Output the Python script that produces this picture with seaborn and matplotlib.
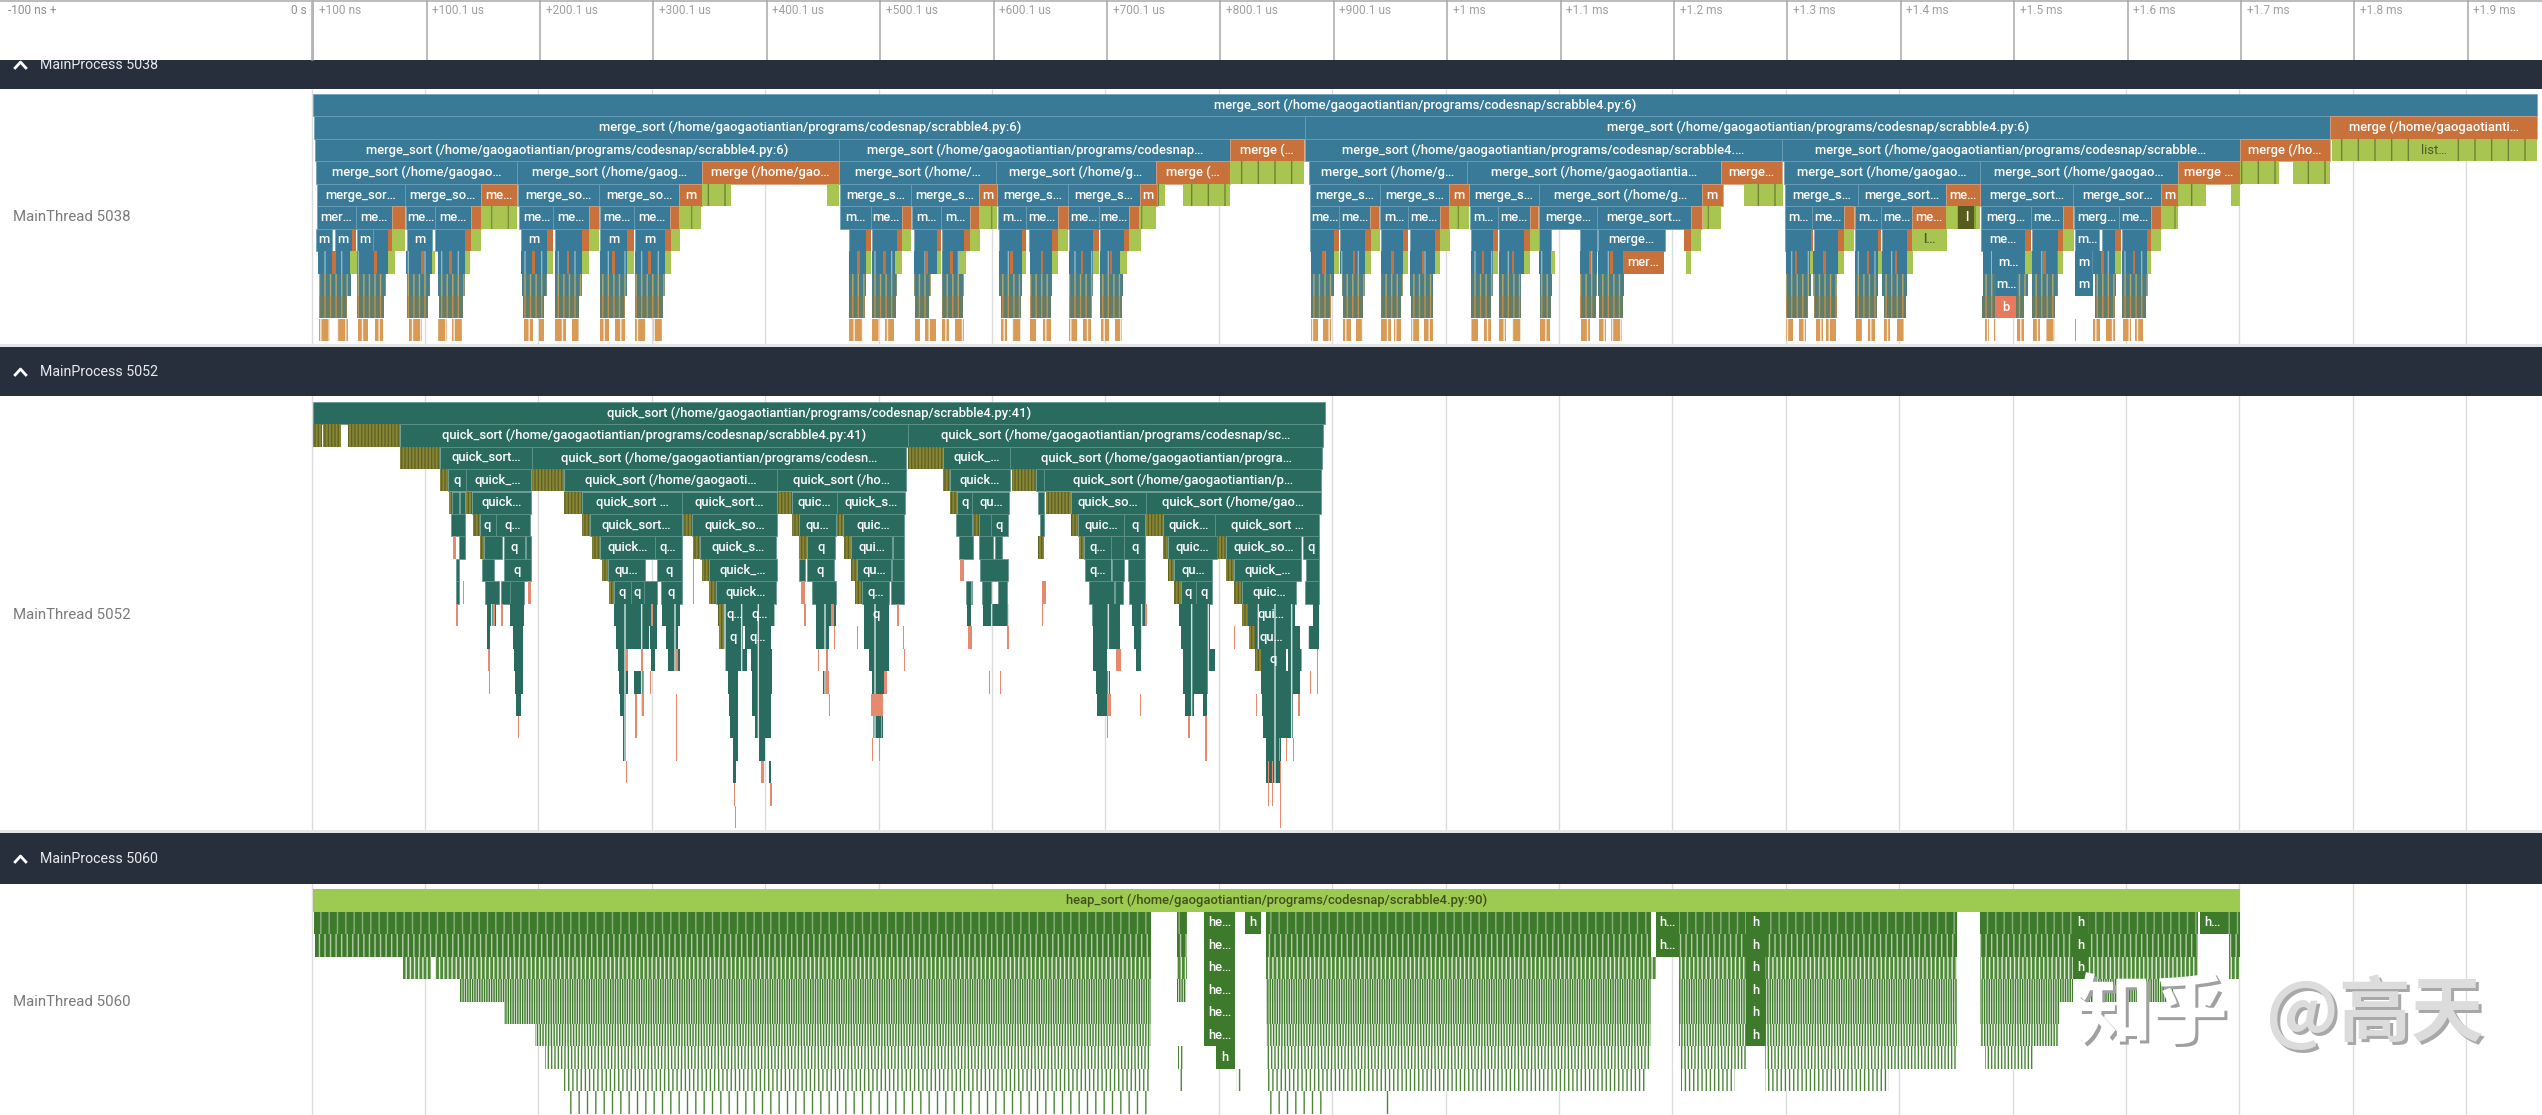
import matplotlib
matplotlib.use("Agg")
import matplotlib.pyplot as plt
from matplotlib.path import Path
import seaborn as sns

# ---- ruler ----
TICK_US = [0.1, 100.1, 200.1, 300.1, 400.1, 500.1, 600.1, 700.1, 800.1, 900.1, 1000.1,
           1100.1, 1200.1, 1300.1, 1400.1, 1500.1, 1600.1, 1700.1, 1800.1, 1900.1]
TICK_LABELS = ["+100 ns", "+100.1 us", "+200.1 us", "+300.1 us", "+400.1 us", "+500.1 us",
               "+600.1 us", "+700.1 us", "+800.1 us", "+900.1 us", "+1 ms", "+1.1 ms", "+1.2 ms",
               "+1.3 ms", "+1.4 ms", "+1.5 ms", "+1.6 ms", "+1.7 ms", "+1.8 ms", "+1.9 ms"]

MS = "merge_sort (/home/gaogaotiantian/programs/codesnap/scrabble4.py:6)"
QS = "quick_sort (/home/gaogaotiantian/programs/codesnap/scrabble4.py:41)"
HS = "heap_sort (/home/gaogaotiantian/programs/codesnap/scrabble4.py:90)"

# ---- merge thread: (start us, end us, label) per call depth ----
MERGE_D0 = [(0, 1961, MS)]
MERGE_D1 = [(1, 875, MS), (875, 1779, MS)]
MERGE_D1_M = [(1779, 1961, "merge (/home/gaogaotianti…")]
MERGE_D2 = [(2, 464, MS), (464, 809, "merge_sort (/home/gaogaotiantian/programs/codesnap…"),
            (875, 1295, "merge_sort (/home/gaogaotiantian/programs/codesnap/scrabble4.…"),
            (1295, 1699, "merge_sort (/home/gaogaotiantian/programs/codesnap/scrabble…")]
MERGE_D2_M = [(809, 874, "merge (…"), (1699, 1779, "merge (/ho…")]
MERGE_D2_L = [(1780, 1961, "list…")]
MERGE_D3 = [(2.4, 180, "merge_sort (/home/gaogao…"), (180, 343, "merge_sort (/home/gaog…"),
            (464, 602, "merge_sort (/home/…"), (602, 743, "merge_sort (/home/g…"),
            (878, 1018, "merge_sort (/home/g…"), (1018, 1242, "merge_sort (/home/gaogaotiantia…"),
            (1297, 1470, "merge_sort (/home/gaogao…"), (1470, 1645, "merge_sort (/home/gaogao…")]
MERGE_D3_M = [(343, 464, "merge (/home/gao…"), (743, 809, "merge (…"), (1242, 1295, "merge…"),
              (1645, 1699, "merge …")]
MERGE_D3_L = [(809, 874), (1699, 1734), (1746, 1779)]
MERGE_D4 = [(3.3, 81, "merge_sor…"), (81, 148, "merge_so…"), (181, 252, "merge_so…"), (252, 323, "merge_so…"),
            (465, 527, "merge_s…"), (527, 587, "merge_s…"), (603, 666, "merge_s…"), (666, 729, "merge_s…"),
            (879, 941, "merge_s…"), (941, 1002, "merge_s…"), (1019, 1081, "merge_s…"),
            (1081, 1225, "merge_sort (/home/g…"), (1298, 1362, "merge_s…"), (1362, 1440, "merge_sort…"),
            (1470, 1552, "merge_sort…"), (1552, 1630, "merge_sor…")]
MERGE_D4_M = [(148, 180, "me…"), (323, 343, "m"), (587, 603, "m"), (729, 744, "m"), (1002, 1019, "m"),
              (1225, 1243, "m"), (1440, 1470, "me…"), (1630, 1645, "m")]
MERGE_D4_L = [(343, 369), (453, 464), (744, 751), (767, 809), (1262, 1296), (1645, 1669), (1691, 1699)]
MERGE_D5 = [(3.3, 38, "mer…"), (38, 70, "me…"), (82, 108, "me…"), (108, 139, "me…"), (182, 212, "me…"),
            (212, 243, "me…"), (253, 283, "me…"), (283, 315, "me…"), (465, 492, "m…"), (492, 519, "me…"),
            (528, 554, "m…"), (554, 579, "m…"), (604, 629, "m…"), (629, 657, "me…"), (666, 693, "me…"),
            (693, 720, "me…"), (879, 905, "me…"), (905, 932, "me…"), (941, 966, "m…"), (966, 994, "me…"),
            (1020, 1045, "m…"), (1045, 1073, "me…"), (1081, 1132, "merge…"), (1132, 1215, "merge_sort…"),
            (1298, 1322, "m…"), (1322, 1350, "me…"), (1360, 1383, "m…"), (1383, 1410, "me…"),
            (1471, 1515, "merg…"), (1515, 1543, "me…"), (1553, 1593, "merg…"), (1593, 1621, "me…")]
MERGE_D5_M = [(70, 81), (139, 148), (243, 252), (315, 323), (519, 527), (579, 587), (657, 666), (720, 728),
              (932, 940), (994, 1002), (1073, 1080), (1215, 1225), (1350, 1359), (1410, 1440, "me…"),
              (1543, 1552), (1621, 1630)]
MERGE_D5_L = [(148, 180), (323, 342), (587, 603), (728, 743), (1002, 1019), (1226, 1242), (1440, 1451),
              (1465, 1470), (1630, 1645)]
MERGE_D5_DARK = [(1451, 1465, "l")]
MERGE_D6 = [(3, 17, "m"), (19, 34, "m"), (39, 53, "m"), (53, 66), (83, 105, "m"), (108, 134), (183, 206, "m"),
            (213, 237), (253, 277, "m"), (284, 310, "m"), (473, 488), (493, 515), (530, 550), (555, 574),
            (605, 625), (631, 652), (667, 688), (694, 715), (879, 900), (906, 928), (942, 961), (967, 989),
            (1021, 1041), (1046, 1068), (1081, 1092), (1117, 1132), (1133, 1192, "merge…"), (1298, 1321),
            (1324, 1345), (1360, 1380), (1384, 1406), (1471, 1510, "me…"), (1516, 1539), (1554, 1575, "m…"),
            (1578, 1589), (1595, 1617)]
MERGE_D6_M = [(34, 38), (66, 70), (134, 139), (206, 212), (237, 243), (277, 283), (310, 316), (488, 492),
              (515, 519), (550, 554), (574, 579), (625, 629), (652, 657), (688, 693), (715, 720), (900, 905),
              (928, 933), (961, 966), (989, 994), (1041, 1045), (1068, 1073), (1209, 1215), (1321, 1323),
              (1345, 1350), (1380, 1383), (1406, 1410), (1510, 1515), (1539, 1543), (1589, 1594), (1617, 1621)]
MERGE_D6_L = [(70, 81), (139, 148), (243, 252), (316, 324), (519, 527), (579, 588), (657, 666), (720, 730),
              (933, 941), (994, 1003), (1073, 1081), (1215, 1224), (1350, 1359), (1410, 1441, "l…"),
              (1543, 1553), (1621, 1630)]
MERGE_D7 = [(4, 33), (39, 66), (82, 105), (110, 134), (183, 206), (213, 237), (253, 277), (284, 310),
            (473, 488), (493, 513), (530, 550), (555, 570), (605, 625), (632, 652), (667, 688), (694, 712),
            (880, 900), (906, 928), (942, 961), (967, 989), (1021, 1041), (1046, 1068), (1081, 1092),
            (1117, 1132), (1133, 1155), (1299, 1320), (1323, 1345), (1360, 1380), (1384, 1406),
            (1473, 1510), (1516, 1539), (1554, 1589), (1595, 1617)]
MERGE_D7_NAMED = [(1481, 1510, "m…"), (1554, 1569, "m")]
MERGE_D7_M = [(17, 20), (53.5, 56), (95.5, 98), (120, 123), (193, 196), (224, 226), (263.5, 266), (295.5, 298),
              (480, 482), (503, 505), (540, 542), (562, 564), (615, 617), (642, 644), (677, 679), (703, 705),
              (890, 892), (917, 919), (951, 953), (978, 980), (1031, 1033), (1057, 1059), (1125, 1127),
              (1144, 1146), (1155, 1191, "mer…"), (1307, 1309), (1332, 1334), (1370, 1372), (1395, 1397),
              (1526, 1528), (1577, 1579), (1605, 1607)]
MERGE_D7_L = [(33, 39), (66, 72), (105, 108), (134, 138.5), (206, 212), (237, 243), (277, 283), (310, 316),
              (488, 492), (513, 519), (550, 554), (570, 576), (625, 629), (652, 657), (688, 693), (712, 718),
              (900, 905), (928, 933), (961, 966), (989, 994), (1041, 1045), (1068, 1073), (1092, 1095),
              (1211, 1215), (1320, 1323), (1345, 1350), (1380, 1384), (1406, 1411), (1510, 1516),
              (1539, 1543), (1589, 1594), (1617, 1621)]
MERGE_D8 = [(5.7, 33.4), (39, 64), (83, 103.6), (110, 133.7), (184, 206), (213.5, 237), (253, 277), (283.7, 310),
            (473, 488), (493, 515), (530, 545), (555, 574), (605, 625), (632, 652), (667, 688), (694, 714),
            (880, 900), (907, 928), (942, 961), (967, 988), (1021, 1041), (1046, 1065), (1082, 1093),
            (1117, 1132), (1133, 1156), (1299, 1321), (1323, 1344), (1360, 1380), (1384, 1406),
            (1473, 1512), (1516, 1539), (1571, 1590), (1595, 1618)]
MERGE_D8_NAMED = [(1484, 1503, "m…"), (1554, 1570, "m")]
MERGE_D9 = [(5.7, 29.6), (39, 63), (83, 101), (111, 132), (185, 204), (213.5, 235), (253, 275.5), (283.7, 309),
            (473, 487), (493, 514), (531, 543), (555, 573), (607, 624), (632, 651), (667, 687), (694, 713),
            (880, 898), (908, 926), (942, 959), (968, 988), (1021, 1039), (1046, 1065), (1082, 1092),
            (1117, 1131), (1134, 1155), (1299, 1318), (1324, 1344), (1360, 1379), (1385, 1405),
            (1472, 1483), (1502, 1509), (1516, 1536), (1571, 1589), (1595, 1616)]
MERGE_D9_B = [(1483, 1502, "b")]
MERGE_D10 = [(5.7, 15.3), (21, 30.6), (40, 48.7), (54.4, 62), (84.5, 96.5), (110, 118), (122.7, 131), (186, 194),
             (199, 204), (213.5, 223), (228, 235), (253, 261), (266, 275.5), (283.7, 293), (299.4, 308),
             (473, 485), (493, 499), (504, 512), (531, 535), (540, 549), (555, 561), (566, 574), (607, 612),
             (616, 624), (632, 638), (644, 651), (667, 674), (679, 686), (695, 702), (707, 713), (880, 886),
             (891, 898), (908, 915), (920, 926), (942, 951), (953, 959), (968, 975), (980, 988), (1021, 1027),
             (1033, 1039), (1046, 1052), (1057, 1065), (1082, 1091), (1118, 1126), (1134, 1140), (1145, 1154),
             (1299, 1305), (1310, 1317), (1325, 1332), (1334, 1343), (1361, 1366), (1371, 1377), (1385, 1391),
             (1397, 1403), (1474, 1478), (1482, 1484), (1503, 1509), (1517, 1523), (1528, 1536), (1554, 1555),
             (1570, 1576), (1581, 1589), (1596, 1603), (1607, 1614)]

# ---- quick thread ----
QUICK_D0 = [(0, 892, QS)]
QUICK_D1 = [(77, 525, QS), (525, 891, "quick_sort (/home/gaogaotiantian/programs/codesnap/sc…")]
QUICK_D1_O = [(0, 8), (9, 25), (31, 77)]
QUICK_D2 = [(112, 193, "quick_sort…"), (193, 523, "quick_sort (/home/gaogaotiantian/programs/codesn…"),
            (555.5, 615, "quick_…"), (615, 890, "quick_sort (/home/gaogaotiantian/progra…")]
QUICK_D2_O = [(77, 112), (525, 555.5)]
QUICK_D3 = [(119, 134.5, "q"), (134.5, 192, "quick_…"), (221.5, 409.5, "quick_sort (/home/gaogaoti…"),
            (409.5, 522.5, "quick_sort (/ho…"), (562, 614.5, "quick…"), (637.4, 645),
            (645, 889, "quick_sort (/home/gaogaotiantian/p…")]
QUICK_D3_O = [(112, 119), (193, 221.5), (555.5, 562), (616, 637.4)]
QUICK_D4 = [(123, 129), (130, 134), (140.5, 192, "quick…"), (237.5, 325, "quick_sort …"), (325, 409, "quick_sort…"),
            (422, 462, "quic…"), (462, 522, "quick_s…"), (568, 581.5, "q"), (581.5, 614, "qu…"), (639, 645),
            (668, 734.6, "quick_so…"), (734.6, 888.6, "quick_sort (/home/gao…")]
QUICK_D4_O = [(120, 123), (134.5, 140.5), (221.5, 237.5), (410, 422), (562, 568), (646, 668)]
QUICK_D5 = [(122, 134), (147, 161, "q"), (161, 191, "q…"), (244.6, 325, "quick_sort…"), (334.5, 409, "quick_so…"),
            (429, 461, "qu…"), (467, 521, "quic…"), (567.3, 581), (587.4, 598), (598, 613, "q"), (641, 645),
            (675, 715.3, "quic…"), (715.3, 734, "q"), (749.6, 795.6, "quick…"), (795.6, 887.4, "quick_sort …")]
QUICK_D5_O = [(141, 147), (237.5, 244.6), (326, 334.5), (422, 429), (462, 467), (582.3, 587.4), (668, 675), (734.6, 749.6)]
QUICK_D6 = [(129, 134), (151, 167), (168, 187, "q"), (188, 192), (253.5, 301.5, "quick…"), (301.5, 325, "q…"),
            (341, 408, "quick_s…"), (436, 460, "q"), (474, 511, "qui…"), (511.6, 521), (569.6, 582.3), (587.4, 600),
            (601, 608), (680, 704, "q…"), (704, 715.3), (715.3, 734, "q"), (754.3, 797, "quic…"),
            (805, 871.6, "quick_so…"), (873, 887.4, "q")]
QUICK_D6_O = [(147, 151), (246, 253.5), (335, 341), (429, 436), (468, 474), (639, 645), (675.6, 680), (749.6, 754.3), (797.6, 805)]
QUICK_D6_T = [(123.6, 125.7)]
QUICK_D7 = [(125.7, 129), (149, 159.4), (168, 192, "q"), (260, 293, "qu…"), (303, 325, "q"), (349, 409.5, "quick_…"),
            (428.5, 433.6), (436, 459, "q"), (480, 509.5, "qu…"), (511, 521), (588, 613), (680.6, 703.5, "q…"),
            (705, 715.3), (719, 734), (759.4, 793, "qu…"), (812.5, 871.6, "quick_…"), (875.5, 887.4)]
QUICK_D7_O = [(254.6, 260), (343, 349), (474, 480), (754.3, 759.4), (805.5, 812.5)]
QUICK_D7_T = [(335.2, 336.2), (570.4, 574.4), (703.5, 705)]
QUICK_D8 = [(126, 128.6), (152, 163.6), (165.8, 174), (174, 186), (265, 280, "q"), (280, 292, "q"), (292, 303),
            (307, 325, "q"), (355, 408, "quick…"), (440, 461), (484, 508, "q…"), (509.5, 521), (575.6, 581),
            (590, 598), (604, 612), (684.6, 706), (707.5, 714), (720, 734), (765.3, 779, "q"), (779, 793, "q"),
            (819.3, 866.5, "quic…"), (874.8, 887.4)]
QUICK_D8_O = [(260.6, 265), (349, 355), (478, 484), (759.4, 765.3), (812.5, 819.3)]
QUICK_D8_T = [(132.4, 133.5), (190, 192), (335.2, 336.2), (430, 433.6), (580, 581.5), (643, 646)]
QUICK_D9 = [(153, 161), (174, 186), (265, 303), (308, 324), (362, 381, "q…"), (381, 407, "q…"), (444, 461),
            (486, 508, "q"), (577, 580), (591, 613.7), (686.6, 712), (722, 734), (764, 791),
            (824.4, 865.7, "qui…"), (882, 887.4)]
QUICK_D9_O = [(357, 362), (819.3, 824.4)]
QUICK_D9_T = [(126, 127.8), (158.5, 160.5), (165.8, 167.5), (298, 299.5), (433, 435), (457, 459), (515, 516.5),
              (643, 644), (734, 735.5)]
QUICK_D10 = [(153, 156.5), (176, 185), (267, 296), (297, 303), (311, 322), (362, 379, "q"), (381, 404, "q…"),
             (444, 454.6), (486, 508), (687.7, 712), (724, 731), (765, 791), (830.3, 860, "qu…"), (860, 870.4), (877.5, 887.4)]
QUICK_D10_O = [(358, 362), (825.5, 830.3)]
QUICK_D10_T = [(459, 460.5), (480, 481), (520, 521), (577.5, 581.5), (612, 614), (812, 813)]
QUICK_D11 = [(177, 185), (269, 277.5), (298, 302), (313, 324), (363, 383), (386, 405), (490.5, 508), (688, 700.4),
             (726, 730), (767, 795), (836, 858, "q"), (860, 871)]
QUICK_D11_O = [(830.3, 836)]
QUICK_D11_T = [(154, 156), (276, 278), (289, 291), (320, 322), (445, 446), (452, 454), (521, 522), (708, 712.2),
               (871, 872), (885, 886)]
QUICK_D12 = [(178.4, 185), (270, 277.5), (283, 291), (366, 374.5), (387, 405), (450, 454.6), (492.6, 504),
             (690.5, 702.4), (767, 789), (836, 870)]
QUICK_D12_T = [(155, 156), (291, 292), (297, 298), (452, 455), (503.5, 506), (596, 597), (606, 607), (879, 880), (885, 886)]
QUICK_D13 = [(179, 183.5), (271, 276), (289, 292), (367, 374.5), (387, 404), (492.6, 503), (691.7, 703.5), (769, 777),
             (785, 788), (837, 864)]
QUICK_D13_T = [(284, 286), (290, 292), (320, 321), (455, 456), (492, 503), (700, 703.5), (729, 730), (831.5, 832.5), (869, 870)]
QUICK_D14 = [(273, 276), (368, 374.5), (390, 404), (493.5, 503), (838, 864)]
QUICK_D14_T = [(180.6, 182), (284, 286), (320, 321), (493.6, 495), (500.5, 502), (700, 701), (772, 773), (787, 788)]
QUICK_D15 = [(273, 276), (370, 374.5), (393.5, 398.6), (840, 854)]
QUICK_D15_T = [(320, 321), (493, 494), (499, 500), (787, 788), (852, 853), (858, 859), (864, 865)]
QUICK_D16 = [(370, 373), (402, 404), (840, 854)]
QUICK_D16_T = [(276, 277), (395, 398), (842, 843), (846, 847), (853, 854)]
QUICK_D17_T = [(371.5, 372.5), (403, 404.5), (842, 843), (846, 847), (853, 854)]
QUICK_D18_T = [(372, 372.8), (853, 854)]

# ---- heap thread ----
HEAP_D0 = [(0, 1699, HS)]
HEAP_D1_CALLS = [(786, 813, "he…"), (822, 836, "h"), (1184, 1205, "h…"), (1264, 1280, "h"), (1552, 1565, "h"),
                 (1664, 1685, "h…")]
HEAP_D2_CALLS = [(786, 813, "he…"), (1184, 1205, "h…"), (1264, 1280, "h"), (1552, 1565, "h")]
HEAP_D3_CALLS = [(786, 813, "he…"), (1264, 1280, "h"), (1552, 1565, "h")]
HEAP_D4_CALLS = [(786, 813, "he…"), (1264, 1280, "h")]
HEAP_D5_CALLS = [(786, 813, "he…"), (1264, 1280, "h")]
HEAP_D6_CALLS = [(786, 813, "he…"), (1264, 1280, "h")]
HEAP_D7_CALLS = [(796, 813, "h")]
HEAP_D1 = [(1, 739), (762, 771), (840, 1180), (1205, 1264), (1280, 1450), (1470, 1552), (1565.5, 1662), (1685, 1699)]
HEAP_D2 = [(2, 739), (762, 771), (840, 1180), (1205, 1264), (1280, 1450), (1470, 1552), (1565, 1662), (1690, 1699)]
HEAP_D3 = [(79, 104), (108, 739), (762, 771), (840, 1184), (1205, 1264), (1280, 1450), (1470, 1552), (1565, 1662), (1690, 1699)]
HEAP_D4 = [(130, 739), (762, 770), (840, 1180), (1205, 1264), (1280, 1450), (1470, 1552), (1565, 1640)]
HEAP_D5 = [(168, 739), (840, 1180), (1205, 1264), (1280, 1450), (1470, 1540)]
HEAP_D6 = [(196, 739), (840, 1180), (1205, 1264), (1280, 1450), (1470, 1540)]
HEAP_D7 = [(205, 739), (763, 768), (840, 1178), (1205, 1264), (1280, 1450), (1474, 1517)]
HEAP_D8 = [(221, 739), (763, 767), (814, 820), (840, 1175), (1206, 1254), (1280, 1390)]
HEAP_D9 = [(222.7, 739), (844, 895), (941.5, 953)]

# ---- process rows ----
PROCESSES = ["MainProcess 5038", "MainProcess 5052", "MainProcess 5060"]
THREADS = ["MainThread 5038", "MainThread 5052", "MainThread 5060"]

TEAL = "#387a97"
ORANGE = "#c8713a"
LIST_GREEN = "#a8c552"
DARK_OLIVE = "#565c1e"
RED = "#e8795c"
Q_TEAL = "#2a6b60"
OLIVE = "#8a8638"
TIP = "#e58a6e"
HEAP_LIGHT = "#9dca50"
HEAP_DARK = "#3e7a2c"
BAND = "#272f3c"

PX_PER_US = 1.134
ORIGIN_PX = 313
ROW = 22.45
TOPS = [94, 401.7, 889.3]


def px(x):
    # left hand panel is laid out in pixels, convert to the time axis
    return (x - ORIGIN_PX) / PX_PER_US


sns.set_theme(style="white")
plt.rcParams["font.family"] = ["Roboto", "DejaVu Sans"]
plt.rcParams["hatch.linewidth"] = 1.0

fig = plt.figure(figsize=(25.42, 11.15), dpi=100)
ax = fig.add_axes([0, 0, 1, 1])
ax.set_xlim(px(0), px(2542))
ax.set_ylim(1115, 0)
ax.axis("off")


def flame(track, depth, spans, color, text="white", hatch=None, hatch_color=None, edge=None, z=3):
    if not spans:
        return
    y = TOPS[track] + depth * ROW
    starts = [s[0] for s in spans]
    widths = [s[1] - s[0] for s in spans]
    if hatch:
        ax.barh([y] * len(spans), widths, left=starts, height=ROW, align="edge", color=color,
                edgecolor=hatch_color, hatch=hatch, linewidth=0, zorder=z)
    else:
        ax.barh([y] * len(spans), widths, left=starts, height=ROW, align="edge", color=color,
                edgecolor=edge if edge else color, linewidth=0.5 if edge else 0, zorder=z)
    for s in spans:
        if len(s) > 2:
            ax.text((s[0] + s[1]) / 2, y + ROW / 2, s[2], color=text, fontsize=9.4, fontweight="medium",
                    ha="center", va="center", zorder=z + 3)


# track backgrounds and grid
bands = [(60, 89), (347, 396), (833, 884)]
for top, bottom in bands:
    ax.axhspan(top, bottom, color=BAND, zorder=4, linewidth=0)
ax.vlines([t - 1.4 for t in TICK_US], 89, 1115, color="#dcdcdc", linewidth=1, zorder=1)
ax.axhspan(343.5, 347, color="#e4e6e8", zorder=1, linewidth=0)
ax.axhspan(829.5, 833, color="#e4e6e8", zorder=1, linewidth=0)

# merge thread
tl = "#6b9fb5"
ml = "#dca37d"
flame(0, 0, MERGE_D0, TEAL, edge=tl)
flame(0, 1, MERGE_D1, TEAL, edge=tl)
flame(0, 1, MERGE_D1_M, ORANGE, edge=ml)
flame(0, 2, MERGE_D2, TEAL, edge=tl)
flame(0, 2, MERGE_D2_M, ORANGE, edge=ml)
flame(0, 2, [s[:2] for s in MERGE_D2_L], LIST_GREEN, hatch="|", hatch_color="#6f8336")
ax.text((MERGE_D2_L[0][0] + MERGE_D2_L[0][1]) / 2, TOPS[0] + 2.5 * ROW, MERGE_D2_L[0][2], color="#4a5a20",
        fontsize=9.4, ha="center", va="center", zorder=8,
        bbox=dict(facecolor=LIST_GREEN, edgecolor="none", pad=3))
flame(0, 3, MERGE_D3, TEAL, edge=tl)
flame(0, 3, MERGE_D3_M, ORANGE, edge=ml)
flame(0, 3, MERGE_D3_L, LIST_GREEN, hatch="|", hatch_color="#6f8336")
flame(0, 4, MERGE_D4, TEAL, edge=tl)
flame(0, 4, MERGE_D4_M, ORANGE, edge=ml)
flame(0, 4, MERGE_D4_L, LIST_GREEN, hatch="|", hatch_color="#6f8336")
flame(0, 5, MERGE_D5, TEAL, edge=tl)
flame(0, 5, MERGE_D5_M, ORANGE, edge=ml)
flame(0, 5, MERGE_D5_L, LIST_GREEN, hatch="|", hatch_color="#7c9038")
flame(0, 5, MERGE_D5_DARK, DARK_OLIVE)
flame(0, 6, MERGE_D6, TEAL, edge=tl)
flame(0, 6, MERGE_D6_M, ORANGE)
flame(0, 6, MERGE_D6_L, LIST_GREEN, text="#4a5a20")
flame(0, 7, MERGE_D7, TEAL, hatch="|", hatch_color="#8fb6c6")
flame(0, 7, MERGE_D7_L, LIST_GREEN)
flame(0, 7, MERGE_D7_M, ORANGE, z=4)
flame(0, 7, MERGE_D7_NAMED, TEAL, z=5)
flame(0, 8, MERGE_D8, "#4a7f8a", hatch="|||", hatch_color="#b4a868")
flame(0, 8, MERGE_D8_NAMED, TEAL, z=5)
flame(0, 9, MERGE_D9, "#5f7f68", hatch="|||", hatch_color="#c98a50")
flame(0, 9, MERGE_D9_B, RED)
flame(0, 10, MERGE_D10, "#d89a55", hatch="||", hatch_color="#f4f0e6")

# quick thread
ql = "#5f948b"
quick_rows = [
    (0, QUICK_D0, [], []), (1, QUICK_D1, QUICK_D1_O, []), (2, QUICK_D2, QUICK_D2_O, []),
    (3, QUICK_D3, QUICK_D3_O, []), (4, QUICK_D4, QUICK_D4_O, []), (5, QUICK_D5, QUICK_D5_O, []),
    (6, QUICK_D6, QUICK_D6_O, QUICK_D6_T), (7, QUICK_D7, QUICK_D7_O, QUICK_D7_T),
    (8, QUICK_D8, QUICK_D8_O, QUICK_D8_T), (9, QUICK_D9, QUICK_D9_O, QUICK_D9_T),
    (10, QUICK_D10, QUICK_D10_O, QUICK_D10_T), (11, QUICK_D11, QUICK_D11_O, QUICK_D11_T),
    (12, QUICK_D12, [], QUICK_D12_T), (13, QUICK_D13, [], QUICK_D13_T), (14, QUICK_D14, [], QUICK_D14_T),
    (15, QUICK_D15, [], QUICK_D15_T), (16, QUICK_D16, [], QUICK_D16_T), (17, [], [], QUICK_D17_T),
    (18, [], [], QUICK_D18_T),
]
for depth, calls, olive, tips in quick_rows:
    if depth < 9:
        flame(1, depth, calls, Q_TEAL, edge=ql)
    else:
        flame(1, depth, calls, Q_TEAL, hatch="|", hatch_color="#d5e4e0")
    flame(1, depth, olive, OLIVE, hatch="|||||", hatch_color="#5f6322")
    flame(1, depth, tips, TIP, z=4)

# heap thread: rows of very short calls are drawn as dense stripes
flame(2, 0, HEAP_D0, HEAP_LIGHT, text="#3f4f1c")
flame(2, 1, HEAP_D1, HEAP_DARK, hatch="||", hatch_color="#8fb27f")
flame(2, 2, HEAP_D2, HEAP_DARK, hatch="|||", hatch_color="#b4cca8")
flame(2, 3, HEAP_D3, "#4f8a38", hatch="||||", hatch_color="#e2ecdc")
flame(2, 4, HEAP_D4, "#dfead9", hatch="|||||||", hatch_color=HEAP_DARK)
flame(2, 5, HEAP_D5, "#e6efe1", hatch="|||||||", hatch_color="#3f7b2d")
flame(2, 6, HEAP_D6, "#eef4ea", hatch="||||||", hatch_color="#437f31")
flame(2, 7, HEAP_D7, "white", hatch="|||||", hatch_color="#4a8636")
flame(2, 8, HEAP_D8, "white", hatch="||||", hatch_color="#4a8636")
flame(2, 9, HEAP_D9, "white", hatch="||", hatch_color="#4a8636")
heap_calls = [HEAP_D1_CALLS, HEAP_D2_CALLS, HEAP_D3_CALLS, HEAP_D4_CALLS, HEAP_D5_CALLS, HEAP_D6_CALLS, HEAP_D7_CALLS]
for depth, calls in enumerate(heap_calls, start=1):
    flame(2, depth, calls, HEAP_DARK, z=5)

# process headers
chevron = Path([(-1, -0.55), (0, 0.55), (1, -0.55)], closed=False)
header_y = [65, 372, 859]
for name, y in zip(PROCESSES, header_y):
    ax.text(px(40), y, name, color="#e8eaee", fontsize=10.2, ha="left", va="center", zorder=5)
    ax.plot([px(20)], [y - 0.5], marker=chevron, markersize=9, markerfacecolor="none",
            markeredgecolor="white", markeredgewidth=2, zorder=5, clip_on=True)

# thread names
thread_y = [217, 615, 1002]
for name, y in zip(THREADS, thread_y):
    ax.text(px(13), y, name, color="#7a7a7a", fontsize=10.8, ha="left", va="center", zorder=5)

# ruler on top
ax.axhspan(0, 60, color="white", zorder=6, linewidth=0)
ax.axhspan(0, 1.5, color="#bdbdbd", zorder=7, linewidth=0)
ax.vlines(TICK_US, 0, 60, color="#a8a8a8", linewidth=1.1, zorder=7)
ax.vlines([TICK_US[0] - 0.8], 0, 60, color="#b5b5b5", linewidth=2, zorder=7)
for t, lab in zip(TICK_US, TICK_LABELS):
    ax.text(t + 5, 10.5, lab, color="#a0a0a0", fontsize=8.6, ha="left", va="center", zorder=8)
ax.text(px(8), 10.5, "-100 ns +", color="#8e8e8e", fontsize=8.6, ha="left", va="center", zorder=8)
ax.text(px(307), 10.5, "0 s", color="#8e8e8e", fontsize=8.6, ha="right", va="center", zorder=8)

# watermark
mark = ["Noto Sans CJK SC", "DejaVu Sans"]
ax.text(px(2079), 1017, "知乎", family=mark, color="#a0a0a0", fontsize=55, fontweight="bold", ha="left", va="center", zorder=9)
ax.text(px(2076), 1014, "知乎", family=mark, color="white", fontsize=55, fontweight="bold", ha="left", va="center", zorder=9)
ax.text(px(2269), 1017, "@高天", family=mark, color="#a8a8a8", fontsize=52, fontweight="bold", ha="left", va="center", zorder=9)
ax.text(px(2266), 1014, "@高天", family=mark, color="#dcdcdc", fontsize=52, fontweight="bold", ha="left", va="center", zorder=9)

sns.despine(ax=ax, left=True, bottom=True)
fig.savefig("out.png", dpi=100)
